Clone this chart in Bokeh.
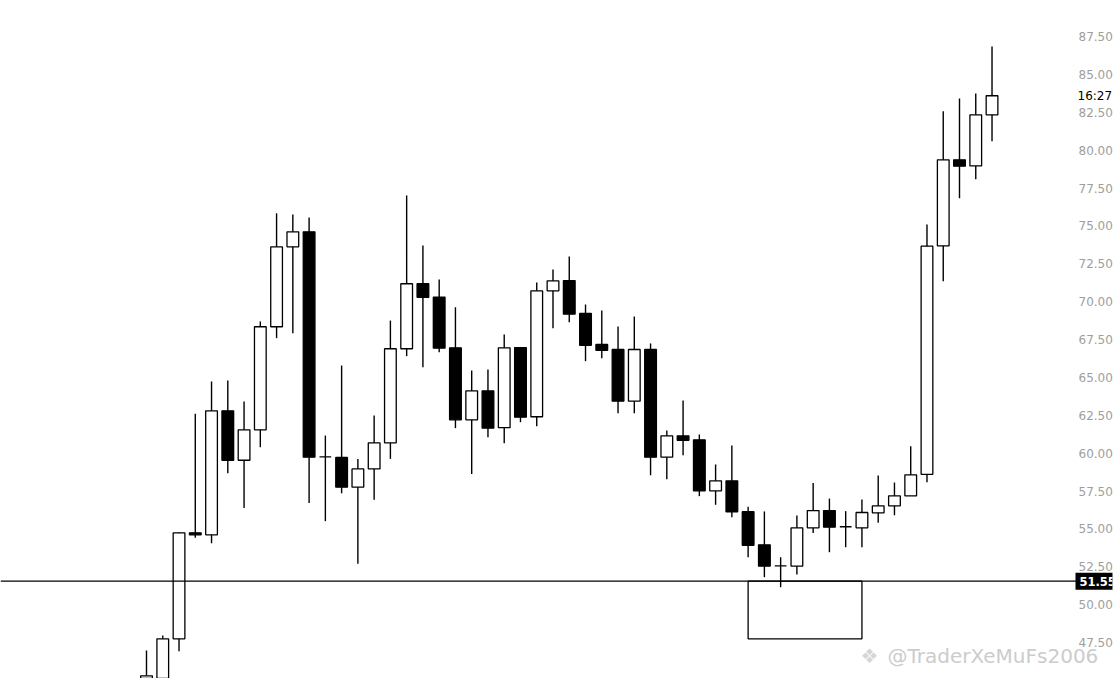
import numpy as np
from bokeh.plotting import figure
from bokeh.models import (ColumnDataSource, Span, Label, FixedTicker,
                          PrintfTickFormatter, Range1d)
from bokeh.embed import file_html
from bokeh.resources import INLINE

# ---- data ----
opens = [43.90, 44.60, 47.74, 54.74, 54.61, 62.79, 59.53, 61.54, 68.34, 73.62,
         74.61, 59.75, 59.71, 57.75, 58.96, 60.68, 66.89, 71.18, 70.30, 66.95,
         62.20, 64.11, 61.68, 66.97, 62.40, 70.71, 71.39, 69.22, 67.17, 66.84,
         63.43, 66.84, 59.73, 61.14, 60.88, 57.51, 58.17, 56.13, 53.95, 52.56,
         52.54, 55.07, 56.21, 55.14, 55.07, 56.06, 56.52, 57.18, 58.60, 73.68,
         79.36, 78.96, 82.33]
highs = [46.97, 47.96, 54.80, 62.60, 64.73, 64.79, 63.41, 68.69, 75.84, 75.75,
         75.55, 61.16, 65.78, 59.62, 62.48, 68.75, 77.00, 73.70, 71.46, 69.63,
         65.45, 65.52, 67.83, 67.00, 71.26, 72.12, 72.98, 69.81, 69.41, 68.36,
         69.02, 67.24, 61.49, 63.47, 61.23, 59.25, 60.50, 56.46, 56.15, 53.13,
         55.88, 58.02, 57.00, 56.17, 56.94, 58.52, 58.06, 60.46, 75.09, 82.57,
         83.41, 83.74, 86.84]
lows = [43.20, 44.10, 46.93, 54.41, 54.05, 58.67, 56.37, 60.39, 67.59, 67.92,
        56.70, 55.51, 57.35, 52.69, 56.92, 59.62, 66.40, 65.67, 66.66, 61.65,
        58.63, 61.05, 60.66, 62.04, 61.78, 68.25, 68.64, 66.07, 66.27, 62.64,
        62.64, 58.54, 58.28, 59.86, 57.16, 56.59, 55.77, 53.13, 51.81, 51.15,
        51.99, 54.72, 53.46, 53.79, 53.79, 55.40, 55.90, 57.18, 58.08, 71.35,
        76.83, 78.08, 80.59]
closes = [45.30, 47.74, 54.74, 54.61, 62.79, 59.53, 61.54, 68.34, 73.62, 74.61,
          59.73, 59.75, 57.75, 58.96, 60.68, 66.89, 71.18, 70.29, 66.93, 62.20,
          64.11, 61.65, 66.95, 62.37, 70.71, 71.37, 69.17, 67.12, 66.79, 63.43,
          66.84, 59.73, 61.14, 60.85, 57.51, 58.17, 56.13, 53.92, 52.54, 52.56,
          55.07, 56.21, 55.11, 55.14, 56.08, 56.52, 57.18, 58.57, 73.66, 79.36,
          78.94, 82.33, 83.59]

support_level = 51.55
box_left_bar = 37
box_right_bar = 44
box_bottom = 47.74
countdown_text = "16:27"
price_ticks = [45.0, 47.5, 50.0, 52.5, 55.0, 57.5, 60.0, 62.5, 65.0, 67.5,
               70.0, 72.5, 75.0, 77.5, 80.0, 82.5, 85.0, 87.5, 90.0]
watermark = "@TraderXeMuFs2006"

# ---- build ----
o = np.array(opens); c = np.array(closes)
idx = np.arange(len(opens))
up = c >= o
src = ColumnDataSource(dict(
    x=idx, top=np.maximum(o, c), bottom=np.minimum(o, c),
    high=highs, low=lows,
    fill=np.where(up, "#ffffff", "#000000"),
))

FRAME_W, FRAME_H = 1112, 678
bar_px = 16.26          # pixels per bar
px_per_unit = 15.15     # pixels per price unit
x0 = -146.0 / bar_px
y_top = 87.5 + 36.0 / px_per_unit
p = figure(frame_width=FRAME_W, frame_height=FRAME_H,
           output_backend="svg", toolbar_location=None,
           x_axis_location=None, y_axis_location="right",
           x_range=Range1d(x0, x0 + FRAME_W / bar_px),
           y_range=Range1d(y_top - FRAME_H / px_per_unit, y_top),
           min_border_left=0, min_border_right=0,
           min_border_top=0, min_border_bottom=0)
p.outline_line_color = None
p.xgrid.visible = False
p.ygrid.visible = False
p.background_fill_color = "#ffffff"
p.border_fill_color = "#ffffff"

ax = p.yaxis[0]
ax.ticker = FixedTicker(ticks=price_ticks)
ax.formatter = PrintfTickFormatter(format="%.2f")
ax.axis_line_color = None
ax.major_tick_line_color = None
ax.minor_tick_line_color = None
ax.major_tick_out = 0
ax.major_tick_in = 0
ax.major_label_standoff = -34
ax.major_label_text_color = "#9e9e9e"
ax.major_label_text_font = "DejaVu Sans"
ax.major_label_text_font_size = "12px"

# support line and box
p.add_layout(Span(location=support_level, dimension="width",
                  line_color="#000000", line_width=1.3))
p.quad(left=[box_left_bar], right=[box_right_bar], bottom=[box_bottom],
       top=[support_level], fill_color=None, line_color="#000000",
       line_width=1.3)

# candles
p.segment(x0="x", y0="high", x1="x", y1="low", source=src,
          line_color="#000000", line_width=1.4)
p.vbar(x="x", width=0.72, top="top", bottom="bottom", source=src,
       fill_color="fill", line_color="#000000", line_width=1.3)

# price label on axis
p.add_layout(Label(x=1075, y=support_level, x_units="screen",
                   text=f"{support_level:.2f}", text_color="#ffffff",
                   text_font="DejaVu Sans", text_font_style="bold",
                   text_font_size="11.5px", text_baseline="middle",
                   text_align="left", background_fill_color="#000000",
                   padding=4))
p.add_layout(Label(x=1077, y=closes[-1], x_units="screen",
                   text=countdown_text, text_color="#000000",
                   text_font="DejaVu Sans", text_font_size="12px",
                   text_baseline="middle", text_align="left",
                   background_fill_color="#ffffff"))

# watermark
p.add_layout(Label(x=860, y=23, x_units="screen", y_units="screen",
                   text="❖", text_color="#d6d6d6", text_font="DejaVu Sans",
                   text_font_size="20px", text_baseline="middle"))
p.add_layout(Label(x=887, y=23, x_units="screen", y_units="screen",
                   text=watermark, text_color="#cccccc",
                   text_font="DejaVu Sans", text_font_size="20px",
                   text_baseline="middle"))

open("out.html", "w").write(file_html(p, INLINE))
